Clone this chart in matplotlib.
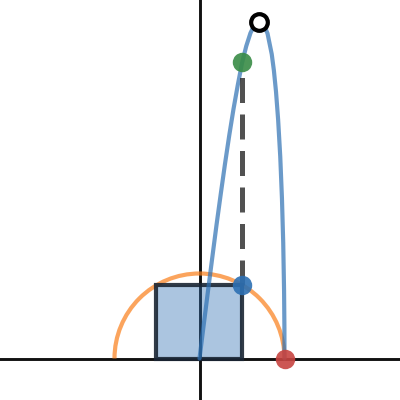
import numpy as np
import matplotlib.pyplot as plt
from matplotlib.patches import Arc, Rectangle

# curve (x, height)
curve_x = [0, 0.05, 0.1, 0.2, 0.3, 0.4, 0.5, 0.6, 0.7, 0.8, 0.9, 1.0, 1.1, 1.2,
           1.3, 1.414, 1.5, 1.6, 1.7, 1.75, 1.8, 1.85, 1.9, 1.94, 1.97, 1.99, 1.998, 2.0]
curve_y = [0, 0.40, 0.80, 1.59, 2.37, 3.14, 3.87, 4.58, 5.25, 5.87, 6.43, 6.95, 7.35, 7.66,
           7.86, 7.93, 7.88, 7.65, 7.16, 6.78, 6.28, 5.62, 4.75, 3.77, 2.72, 1.59, 0.72, 0]

radius = 2.0
rect_left = -1.03
rect_right = 1.0
rect_top = 1.73

blue_pt = (1.0, 1.73)
green_pt = (1.0, 6.97)
red_pt = (2.0, 0.0)
open_pt = (1.40, 7.91)

fig = plt.figure(figsize=(4, 4), dpi=100)
ax = fig.add_axes([0, 0, 1, 1])
s = 42.5
ax.set_xlim(-199.5 / s, 200.5 / s)
ax.set_ylim(-41.5 / s, 358.5 / s)
ax.axis('off')

ax.axhline(0, color='#111111', linewidth=2.1, zorder=1)
ax.axvline(0, color='#111111', linewidth=2.1, zorder=1)

ax.add_patch(Rectangle((rect_left, 0), rect_right - rect_left, rect_top,
                       facecolor='#2d70b3', alpha=0.4, edgecolor='none', zorder=2))
ax.add_patch(Rectangle((rect_left, 0), rect_right - rect_left, rect_top,
                       facecolor='none', edgecolor='#1a2533', linewidth=3, alpha=0.9, zorder=3))

ax.add_patch(Arc((0, 0), 2 * radius, 2 * radius, theta1=0, theta2=180,
                 color='#fa7e19', alpha=0.7, linewidth=3, zorder=2.5))

ax.plot(curve_x, curve_y, color='#2d70b3', alpha=0.7, linewidth=3, zorder=4,
        solid_capstyle='round')

ax.plot([blue_pt[0], green_pt[0]], [blue_pt[1], green_pt[1] - 0.35], color='#333333', alpha=0.85,
        linewidth=3.6, linestyle=(0, (5, 2.3)), zorder=4)

ax.plot(*blue_pt, 'o', color='#2d70b3', alpha=0.9, markersize=14, markeredgewidth=0, zorder=5)
ax.plot(*green_pt, 'o', color='#388c46', alpha=0.9, markersize=14, markeredgewidth=0, zorder=5)
ax.plot(*red_pt, 'o', color='#c74440', alpha=0.9, markersize=14, markeredgewidth=0, zorder=5)
ax.plot(*open_pt, 'o', markerfacecolor='white', markeredgecolor='black',
        markersize=12, markeredgewidth=3, zorder=6)

plt.savefig('out.png', dpi=100)
